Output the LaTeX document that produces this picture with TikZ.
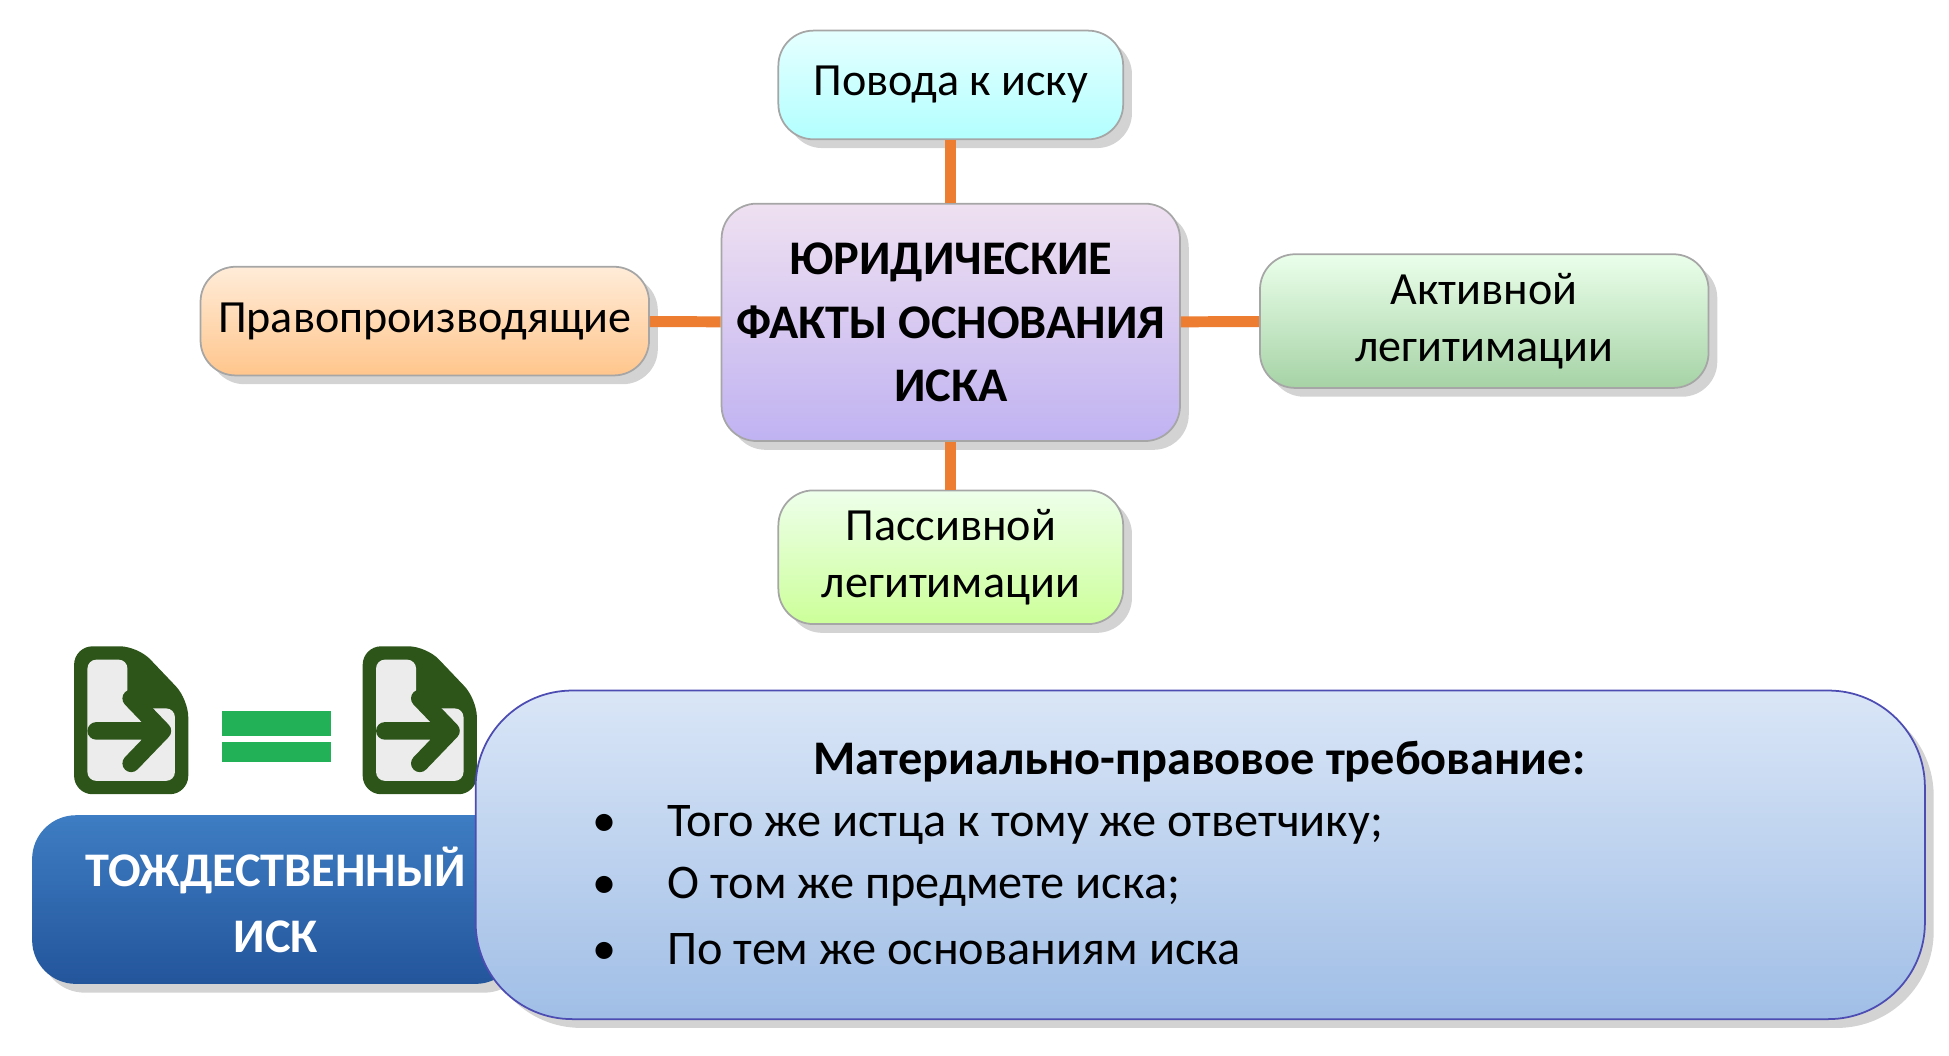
\documentclass[tikz,border=0pt]{standalone}
\usepackage{fontspec}
\setmainfont{Carlito}
\usetikzlibrary{positioning,shadows}
\definecolor{lignorange}{RGB}{237,125,49}
\definecolor{vertfonce}{RGB}{45,85,25}
\definecolor{vertegal}{RGB}{34,177,86}
\definecolor{bleuhaut}{RGB}{62,125,195}
\definecolor{bleubas}{RGB}{35,85,155}
\definecolor{cielhaut}{RGB}{218,230,247}
\definecolor{cielbas}{RGB}{160,190,230}
\tikzset{
  boite/.style={draw=gray!70, rounded corners=8pt, align=center, font=\fontsize{10.5}{13}\selectfont,
    drop shadow={shadow xshift=2pt, shadow yshift=-2pt, opacity=0.35}},
  lien/.style={lignorange, line width=2.5pt},
  puce/.style={font=\fontsize{11}{13}\selectfont, anchor=west},
  doc/.pic={
    \filldraw[fill=vertfonce, draw=vertfonce, rounded corners=4pt] (0,0) -- (0,1.17) -- (0.5,1.17) -- (0.9,0.75) -- (0.9,0) -- cycle;
    \fill[gray!15, rounded corners=2pt] (0.1,0.1) -- (0.1,1.07) -- (0.42,1.07) -- (0.42,0.68) -- (0.8,0.68) -- (0.8,0.1) -- cycle;
    \draw[vertfonce, line width=4pt, line cap=round, line join=round] (0.17,0.5) -- (0.7,0.5) (0.45,0.76) -- (0.7,0.5) -- (0.45,0.24);
  }
}
\begin{document}
\begin{tikzpicture}
\useasboundingbox (0,0) rectangle (15.6,8.45);

% schéma du haut
\node[boite, minimum width=3.6cm, minimum height=1.9cm, top color=blue!5!violet!12, bottom color=violet!35!blue!30,
      font=\fontsize{11}{14.5}\selectfont\bfseries] (centre) at (7.61,5.87) {ЮРИДИЧЕСКИЕ\\ФАКТЫ ОСНОВАНИЯ\\ИСКА};
\node[boite, minimum width=2.76cm, minimum height=0.87cm, top color=cyan!10, bottom color=cyan!30] (haut) at (7.61,7.77) {Повода к иску};
\node[boite, minimum width=3.59cm, minimum height=0.87cm, top color=orange!15, bottom color=orange!45] (gauche) at (3.40,5.88) {Правопроизводящие};
\node[boite, minimum width=3.59cm, minimum height=1.07cm, top color=green!8, bottom color=green!50!black!35] (droite) at (11.88,5.88) {Активной\\легитимации};
\node[boite, minimum width=2.76cm, minimum height=1.07cm, top color=yellow!15!green!8, bottom color=yellow!50!green!40] (bas) at (7.61,3.99) {Пассивной\\легитимации};

\draw[lien] (haut) -- (centre);
\draw[lien] (bas) -- (centre);
\draw[lien] (gauche) -- (centre);
\draw[lien] (droite) -- (centre);

% icônes
\pic at (0.6,2.1) {doc};
\fill[vertegal] (1.78,2.56) rectangle (2.65,2.76);
\fill[vertegal] (1.78,2.35) rectangle (2.65,2.51);
\pic at (2.91,2.1) {doc};

% bloc du bas
\node[boite, draw=none, rounded corners=10pt, minimum width=3.9cm, minimum height=1.35cm, top color=bleuhaut, bottom color=bleubas,
      text=white, font=\fontsize{11}{15}\selectfont\bfseries, anchor=west, inner xsep=0pt, text width=3.7cm] (tozh) at (0.25,1.25) {ТОЖДЕСТВЕННЫЙ\\ИСК};
\node[boite, draw=blue!40!gray, rounded corners=22pt, minimum width=11.6cm, minimum height=2.63cm, top color=cielhaut, bottom color=cielbas,
      anchor=north west] (treb) at (3.8,2.93) {};
\node[font=\fontsize{11}{13}\selectfont\bfseries] (titre) at (9.6,2.35) {Материально-правовое требование:};
\node[puce] (p1) at (4.62,1.85) {\textbullet\hspace{1.05em}Того же истца к тому же ответчику;};
\node[puce] (p2) at (4.62,1.35) {\textbullet\hspace{1.05em}О том же предмете иска;};
\node[puce] (p3) at (4.62,0.85) {\textbullet\hspace{1.05em}По тем же основаниям иска};
\end{tikzpicture}
\end{document}
